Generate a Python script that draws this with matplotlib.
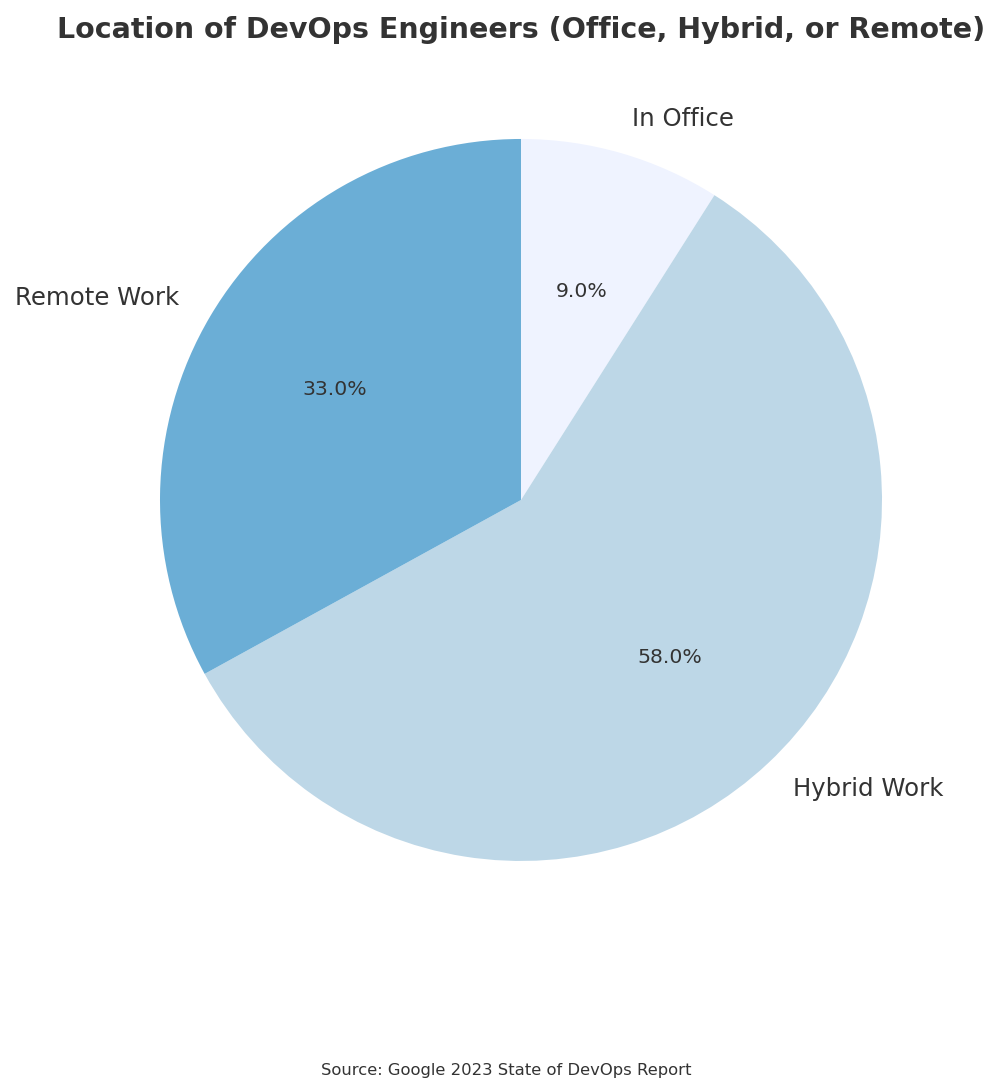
import matplotlib
matplotlib.use("Agg")
import matplotlib.pyplot as plt

labels = ["In Office", "Hybrid Work", "Remote Work"]
values = [9, 58, 33]
colors = ["#eff3ff", "#bdd7e7", "#6baed6"]
title = "Location of DevOps Engineers (Office, Hybrid, or Remote)"
source = "Source: Google 2023 State of DevOps Report"

text_color = "#333333"
fig = plt.figure(figsize=(10, 10.92), dpi=100)
ax = fig.add_axes([0.06975, 0.1289, 0.9025, 0.8265])
wedges, texts, autotexts = ax.pie(
    values, labels=labels, colors=colors, autopct="%1.1f%%",
    startangle=90, counterclock=False,
    textprops={"fontsize": 17.6, "color": text_color},
)
for t in autotexts:
    t.set_fontsize(14.7)
    t.set_color(text_color)
ax.set_aspect("equal")
ax.set_title(title, fontsize=20.5, fontweight="bold", color=text_color, pad=8)
fig.text(0.506, 1 - 1070 / 1092, source, ha="center", va="center",
         fontsize=11.8, color=text_color)
fig.savefig("out.png", dpi=100)
